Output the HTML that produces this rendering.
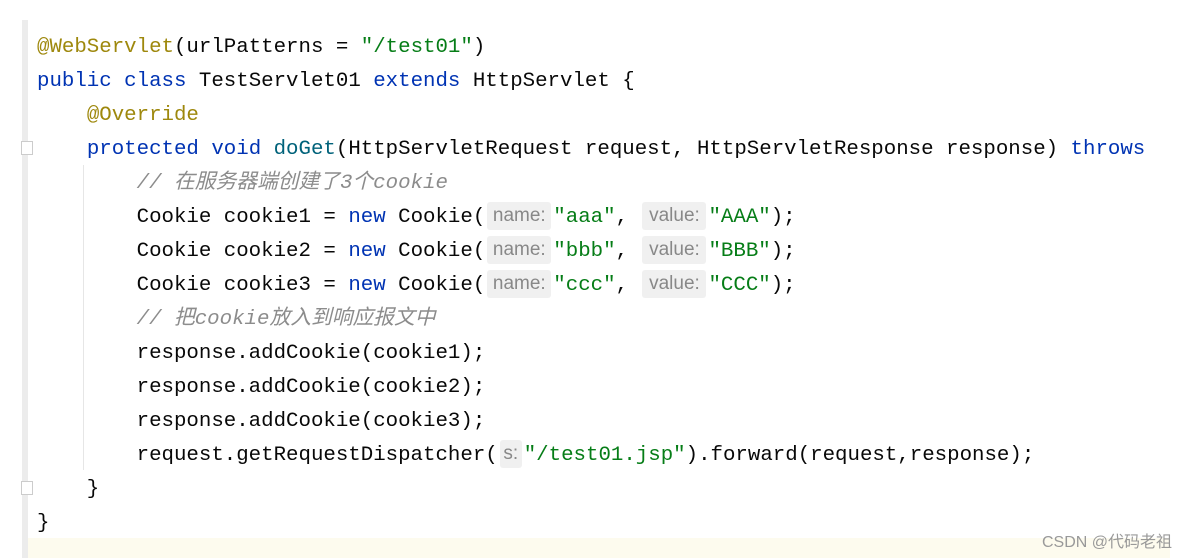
<!DOCTYPE html>
<html><head><meta charset="utf-8"><style>
body{margin:0;width:1188px;height:558px;background:#fff;position:relative;overflow:hidden}
.gut{position:absolute;left:22px;top:20px;width:6px;height:538px;background:#ececec}
.band{position:absolute;left:28px;top:538px;width:1142px;height:20px;background:#fdfbee}
.guide{position:absolute;left:83px;top:165px;width:1px;height:305px;background:#e6e6e6}
.l{position:absolute;left:37px;font-family:"Liberation Mono","Noto Sans CJK SC",monospace;font-size:20.75px;color:#080808;white-space:pre;line-height:34px}
.a{color:#9e880d}.k{color:#0033b3}.m{color:#00627a}.s{color:#067d17}
.c{color:#8c8c8c;font-style:italic}
.h{display:inline-block;width:64px;margin:0 2px;background:#f0f0f0;border-radius:3px;color:#888;font-family:"Liberation Sans",sans-serif;font-size:19px;font-style:normal;line-height:28px;text-align:center;vertical-align:1px}
.wm{position:absolute;right:16px;top:528px;font-family:"Liberation Sans","Noto Sans CJK SC",sans-serif;font-size:16px;color:#999}
.fold{position:absolute;left:21px;width:10px;height:12px;border:1px solid #ccc;background:#fff}
</style></head><body>
<div class="gut"></div><div class="band"></div><div class="guide"></div>
<div class="fold" style="top:141px"></div><div class="fold" style="top:481px"></div>
<div class="l" style="top:31px"><span class="a">@WebServlet</span>(urlPatterns = <span class="s">"/test01"</span>)</div>
<div class="l" style="top:65px"><span class="k">public class</span> TestServlet01 <span class="k">extends</span> HttpServlet {</div>
<div class="l" style="top:99px">    <span class="a">@Override</span></div>
<div class="l" style="top:133px">    <span class="k">protected void</span> <span class="m">doGet</span>(HttpServletRequest request, HttpServletResponse response) <span class="k">throws</span></div>
<div class="l" style="top:167px">        <span class="c">// 在服务器端创建了3个cookie</span></div>
<div class="l" style="top:201px">        Cookie cookie1 = <span class="k">new</span> Cookie(<span class="h">name:</span><span class="s">"aaa"</span>, <span class="h">value:</span><span class="s">"AAA"</span>);</div>
<div class="l" style="top:235px">        Cookie cookie2 = <span class="k">new</span> Cookie(<span class="h">name:</span><span class="s">"bbb"</span>, <span class="h">value:</span><span class="s">"BBB"</span>);</div>
<div class="l" style="top:269px">        Cookie cookie3 = <span class="k">new</span> Cookie(<span class="h">name:</span><span class="s">"ccc"</span>, <span class="h">value:</span><span class="s">"CCC"</span>);</div>
<div class="l" style="top:303px">        <span class="c">// 把cookie放入到响应报文中</span></div>
<div class="l" style="top:337px">        response.addCookie(cookie1);</div>
<div class="l" style="top:371px">        response.addCookie(cookie2);</div>
<div class="l" style="top:405px">        response.addCookie(cookie3);</div>
<div class="l" style="top:439px">        request.getRequestDispatcher(<span class="h" style="width:22px">s:</span><span class="s">"/test01.jsp"</span>).forward(request,response);</div>
<div class="l" style="top:473px">    }</div>
<div class="l" style="top:507px">}</div>
<div class="wm">CSDN @代码老祖</div>
</body></html>
